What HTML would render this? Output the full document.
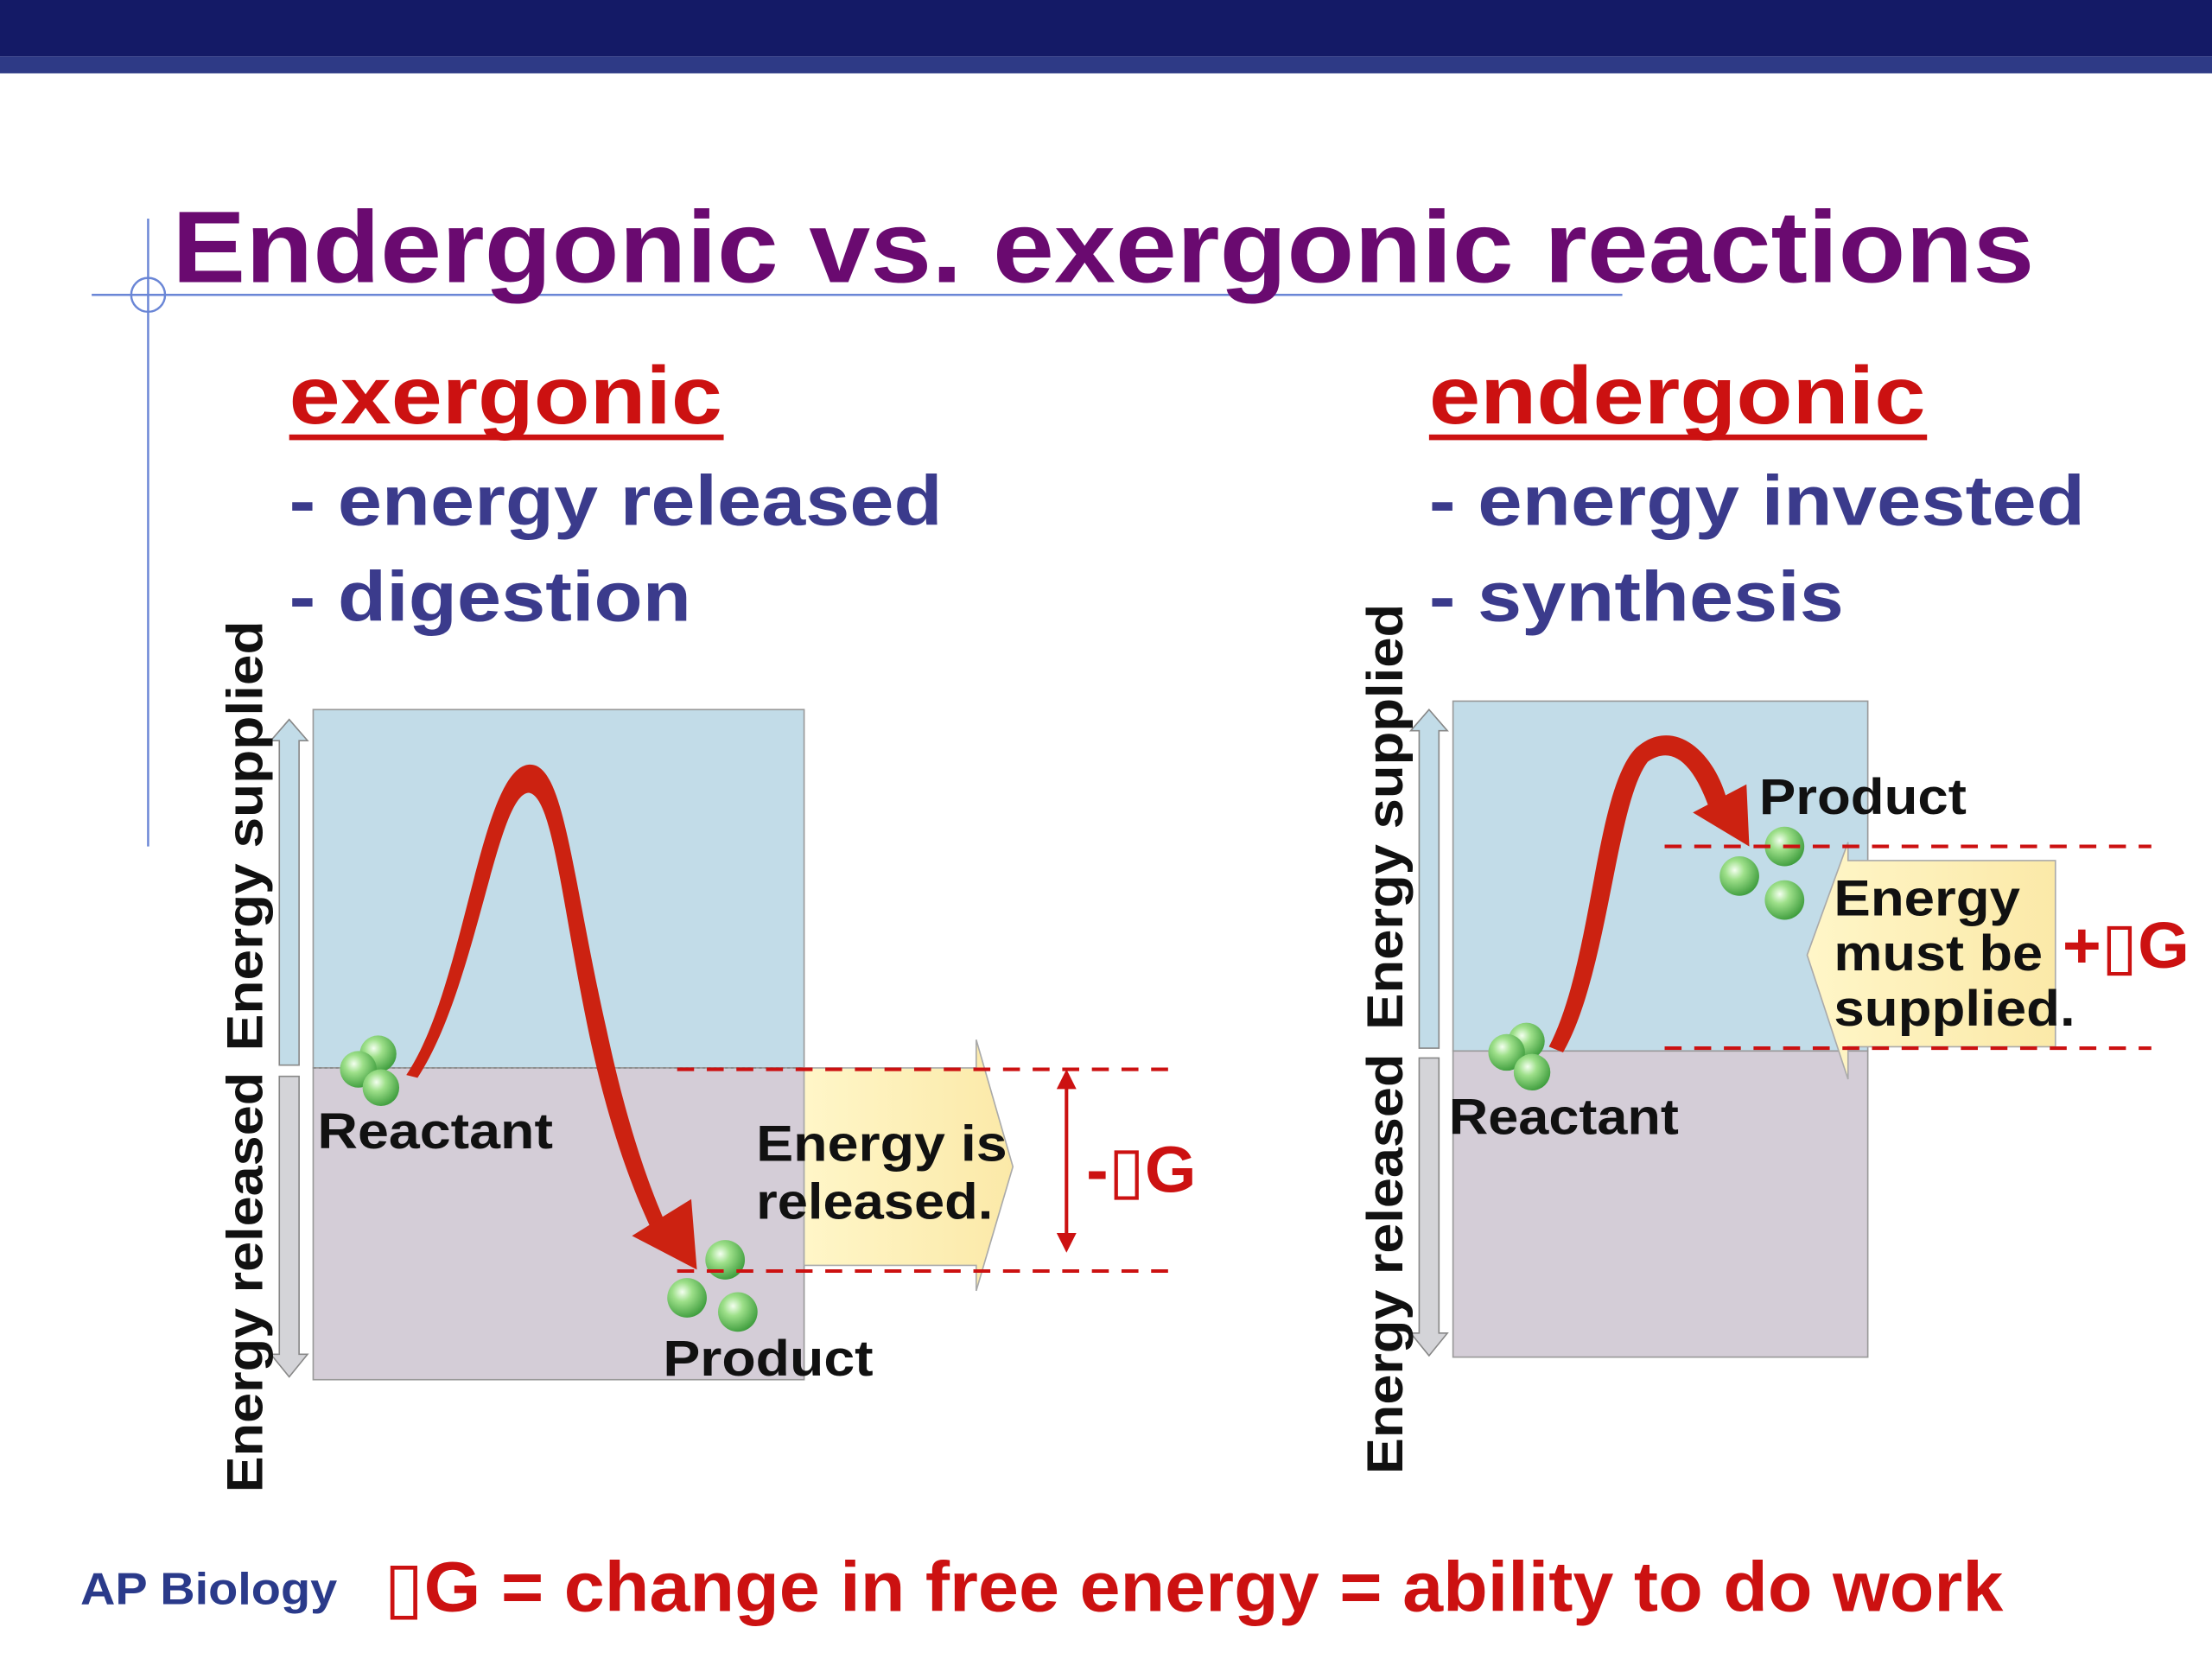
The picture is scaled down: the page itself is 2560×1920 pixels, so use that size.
<!DOCTYPE html>
<html><head><meta charset="utf-8"><style>
html,body{margin:0;padding:0;background:#fff;}
svg{display:block;}
text{font-family:"Liberation Sans","DejaVu Sans",sans-serif;font-weight:bold;}
</style></head><body>
<svg width="2560" height="1920" viewBox="0 0 1568 1176" xmlns="http://www.w3.org/2000/svg">
<defs>
<radialGradient id="g" cx="0.38" cy="0.35" r="0.7">
<stop offset="0" stop-color="#f4fff0"/><stop offset="0.35" stop-color="#9ee08a"/><stop offset="1" stop-color="#3a9a3a"/>
</radialGradient>
<linearGradient id="y" x1="0" y1="0" x2="1" y2="0">
<stop offset="0" stop-color="#fff6c8"/><stop offset="1" stop-color="#fbe9a8"/>
</linearGradient>
</defs>
<rect width="1568" height="1176" fill="#fff"/>
<rect x="0" y="0" width="1568" height="40" fill="#141a66"/>
<rect x="0" y="40" width="1568" height="12" fill="#2e3a86"/>
<!-- crosshair -->
<line x1="65" y1="209" x2="1150" y2="209" stroke="#6a86d6" stroke-width="1.5"/>
<line x1="105" y1="155" x2="105" y2="600" stroke="#6a86d6" stroke-width="1.5"/>
<circle cx="105" cy="209" r="12" fill="none" stroke="#6a86d6" stroke-width="1.5"/>
<text x="122" y="200" font-size="72" fill="#6a0a70" textLength="1320" lengthAdjust="spacingAndGlyphs">Endergonic vs. exergonic reactions</text>
<!-- headings -->
<text x="205" y="300" font-size="58" fill="#cc1111" textLength="307" lengthAdjust="spacingAndGlyphs">exergonic</text>
<rect x="205" y="308" width="308" height="4" fill="#cc1111"/>
<text x="205" y="372" font-size="50" fill="#3b3b8c" textLength="463" lengthAdjust="spacingAndGlyphs">- energy released</text>
<text x="205" y="440" font-size="50" fill="#3b3b8c" textLength="285" lengthAdjust="spacingAndGlyphs">- digestion</text>
<text x="1013" y="300" font-size="58" fill="#cc1111" textLength="352" lengthAdjust="spacingAndGlyphs">endergonic</text>
<rect x="1013" y="308" width="353" height="4" fill="#cc1111"/>
<text x="1013" y="372" font-size="50" fill="#3b3b8c" textLength="465" lengthAdjust="spacingAndGlyphs">- energy invested</text>
<text x="1013" y="440" font-size="50" fill="#3b3b8c" textLength="294" lengthAdjust="spacingAndGlyphs">- synthesis</text>

<!-- LEFT DIAGRAM -->
<rect x="222" y="503" width="348" height="254" fill="#c2dce8" stroke="#999" stroke-width="1"/>
<rect x="222" y="757" width="348" height="221" fill="#d4cdd7" stroke="#999" stroke-width="1"/>
<line x1="222" y1="757" x2="570" y2="757" stroke="#888" stroke-dasharray="2,2"/>
<!-- side arrows -->
<path d="M198 755 L198 525 L192 525 L205 510 L218 525 L212 525 L212 755 Z" fill="#c2dce8" stroke="#888"/>
<path d="M198 763 L198 960 L192 960 L205 976 L218 960 L212 960 L212 763 Z" fill="#d4d4d8" stroke="#888"/>
<text transform="translate(186,745) rotate(-90)" font-size="36" fill="#111" textLength="305" lengthAdjust="spacingAndGlyphs">Energy supplied</text>
<text transform="translate(186,1058) rotate(-90)" font-size="36" fill="#111" textLength="298" lengthAdjust="spacingAndGlyphs">Energy released</text>
<!-- red curve -->
<path d="M288 762 C330 700 340 545 375 542 C400 540 405 620 430 730 C445 800 460 840 472 868 L462 872 C448 842 432 800 418 735 C398 640 392 565 375 562 C352 562 338 700 296 764 Z" fill="#cc2211"/>
<path d="M448 876 L494 900 L490 850 Z" fill="#cc2211"/>
<!-- spheres -->
<circle cx="268" cy="747" r="13" fill="url(#g)"/><circle cx="254" cy="758" r="13" fill="url(#g)"/><circle cx="270" cy="771" r="13" fill="url(#g)"/>
<text x="225" y="814" font-size="36" fill="#111" textLength="167" lengthAdjust="spacingAndGlyphs">Reactant</text>
<circle cx="514" cy="893" r="14" fill="url(#g)"/><circle cx="487" cy="920" r="14" fill="url(#g)"/><circle cx="523" cy="930" r="14" fill="url(#g)"/>
<text x="470" y="975" font-size="36" fill="#111" textLength="149" lengthAdjust="spacingAndGlyphs">Product</text>
<!-- yellow arrow -->
<path d="M570 757 L692 757 L692 737 L718 827 L692 915 L692 897 L570 897 Z" fill="url(#y)" stroke="#aaa" stroke-width="1"/>
<line x1="480" y1="758" x2="830" y2="758" stroke="#cc1111" stroke-width="2.5" stroke-dasharray="12,9"/>
<line x1="480" y1="901" x2="830" y2="901" stroke="#cc1111" stroke-width="2.5" stroke-dasharray="12,9"/>
<text x="536" y="823" font-size="36" fill="#111" textLength="178" lengthAdjust="spacingAndGlyphs">Energy is</text>
<text x="536" y="864" font-size="36" fill="#111" textLength="168" lengthAdjust="spacingAndGlyphs">released.</text>
<line x1="756" y1="770" x2="756" y2="876" stroke="#cc1111" stroke-width="2.5"/>
<path d="M749 772 L756 758 L763 772 Z M749 874 L756 888 L763 874 Z" fill="#cc1111"/>
<text x="770" y="845" font-size="46" fill="#cc1111" textLength="78" lengthAdjust="spacingAndGlyphs">-▯G</text>

<!-- RIGHT DIAGRAM -->
<rect x="1030" y="497" width="294" height="248" fill="#c2dce8" stroke="#999" stroke-width="1"/>
<rect x="1030" y="745" width="294" height="217" fill="#d4cdd7" stroke="#999" stroke-width="1"/>
<path d="M1006 743 L1006 518 L1000 518 L1013 503 L1026 518 L1020 518 L1020 743 Z" fill="#c2dce8" stroke="#888"/>
<path d="M1006 750 L1006 945 L1000 945 L1013 961 L1026 945 L1020 945 L1020 750 Z" fill="#d4d4d8" stroke="#888"/>
<text transform="translate(994,730) rotate(-90)" font-size="36" fill="#111" textLength="302" lengthAdjust="spacingAndGlyphs">Energy supplied</text>
<text transform="translate(994,1045) rotate(-90)" font-size="36" fill="#111" textLength="298" lengthAdjust="spacingAndGlyphs">Energy released</text>
<path d="M1098 742 C1130 680 1130 560 1160 530 C1185 508 1215 530 1225 570 L1212 574 C1200 540 1185 528 1168 540 C1145 570 1140 690 1108 746 Z" fill="#cc2211"/>
<path d="M1200 576 L1240 600 L1238 556 Z" fill="#cc2211"/>
<circle cx="1082" cy="738" r="13" fill="url(#g)"/><circle cx="1068" cy="746" r="13" fill="url(#g)"/><circle cx="1086" cy="760" r="13" fill="url(#g)"/>
<text x="1027" y="804" font-size="36" fill="#111" textLength="163" lengthAdjust="spacingAndGlyphs">Reactant</text>
<circle cx="1265" cy="600" r="14" fill="url(#g)"/><circle cx="1233" cy="621" r="14" fill="url(#g)"/><circle cx="1265" cy="638" r="14" fill="url(#g)"/>
<text x="1247" y="577" font-size="36" fill="#111" textLength="147" lengthAdjust="spacingAndGlyphs">Product</text>
<path d="M1457 610 L1310 610 L1310 597 L1281 677 L1310 765 L1310 742 L1457 742 Z" fill="url(#y)" stroke="#aaa" stroke-width="1"/>
<line x1="1180" y1="600" x2="1525" y2="600" stroke="#cc1111" stroke-width="2.5" stroke-dasharray="12,9"/>
<line x1="1180" y1="743" x2="1525" y2="743" stroke="#cc1111" stroke-width="2.5" stroke-dasharray="12,9"/>
<text x="1300" y="649" font-size="36" fill="#111" textLength="132" lengthAdjust="spacingAndGlyphs">Energy</text>
<text x="1300" y="688" font-size="36" fill="#111" textLength="148" lengthAdjust="spacingAndGlyphs">must be</text>
<text x="1300" y="727" font-size="36" fill="#111" textLength="171" lengthAdjust="spacingAndGlyphs">supplied.</text>
<text x="1462" y="686" font-size="46" fill="#cc1111" textLength="90" lengthAdjust="spacingAndGlyphs">+▯G</text>

<!-- footer -->
<text x="57" y="1137" font-size="32" fill="#2a3a8a" textLength="182" lengthAdjust="spacingAndGlyphs">AP Biology</text>
<text x="272" y="1142" font-size="50" fill="#cc1111" textLength="1148" lengthAdjust="spacingAndGlyphs">▯G = change in free energy = ability to do work</text>
</svg>
</body></html>
